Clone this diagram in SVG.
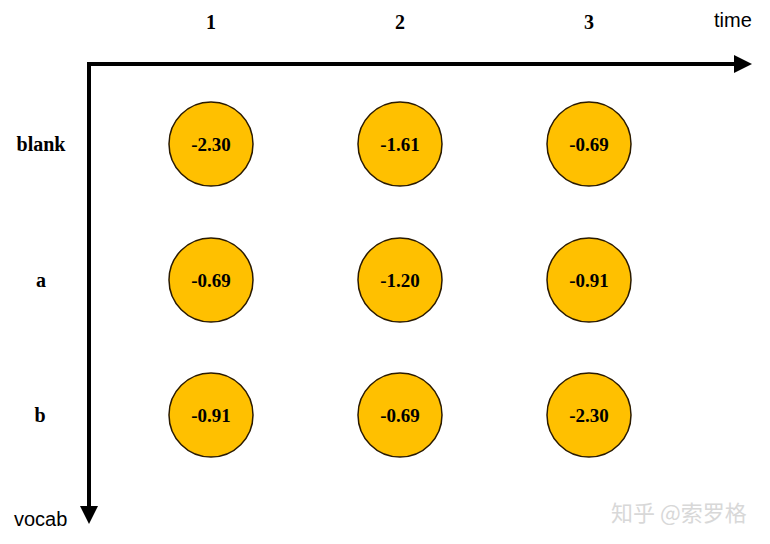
<svg xmlns="http://www.w3.org/2000/svg" width="770" height="544" viewBox="0 0 770 544">
<style>
.n circle{fill:#FFC000;stroke:#2a1a00;stroke-width:1.5}
.v{font-family:'Liberation Serif','DejaVu Serif',serif;font-weight:bold;font-size:19px;text-anchor:middle;fill:#000}
.lab{font-family:'Liberation Serif','DejaVu Serif',serif;font-weight:bold;font-size:20px;text-anchor:middle;fill:#000}
.ax{font-family:'Liberation Sans',sans-serif;font-size:20px;fill:#000}
</style>
<rect width="770" height="544" fill="#fff"/>
<g id="connectors">
<path d="M89 64 H737" stroke="#000" stroke-width="4" fill="none"/>
<polygon points="752,64 734,55 734,73" fill="#000"/>
<path d="M89 62 V507" stroke="#000" stroke-width="4" fill="none"/>
<polygon points="89,524 80,506 98,506" fill="#000"/>
</g>
<g id="labels">
<text class="lab" x="211" y="29">1</text>
<text class="lab" x="400" y="29">2</text>
<text class="lab" x="589" y="29">3</text>
<text class="lab" x="41" y="151">blank</text>
<text class="lab" x="41" y="287">a</text>
<text class="lab" x="40" y="422">b</text>
<text class="ax" x="714" y="27">time</text>
<text class="ax" x="14" y="526">vocab</text>
<text x="611" y="521" font-family="'Noto Sans CJK SC',sans-serif" font-size="22" fill="#d8d8d8">知乎 @索罗格</text>
</g>
<g id="n11" class="n"><circle cx="211" cy="144" r="42"/><text class="v" x="211" y="151">-2.30</text></g>
<g id="n12" class="n"><circle cx="400" cy="144" r="42"/><text class="v" x="400" y="151">-1.61</text></g>
<g id="n13" class="n"><circle cx="589" cy="144" r="42"/><text class="v" x="589" y="151">-0.69</text></g>
<g id="n21" class="n"><circle cx="211" cy="280" r="42"/><text class="v" x="211" y="287">-0.69</text></g>
<g id="n22" class="n"><circle cx="400" cy="280" r="42"/><text class="v" x="400" y="287">-1.20</text></g>
<g id="n23" class="n"><circle cx="589" cy="280" r="42"/><text class="v" x="589" y="287">-0.91</text></g>
<g id="n31" class="n"><circle cx="211" cy="415" r="42"/><text class="v" x="211" y="422">-0.91</text></g>
<g id="n32" class="n"><circle cx="400" cy="415" r="42"/><text class="v" x="400" y="422">-0.69</text></g>
<g id="n33" class="n"><circle cx="589" cy="415" r="42"/><text class="v" x="589" y="422">-2.30</text></g>
</svg>
